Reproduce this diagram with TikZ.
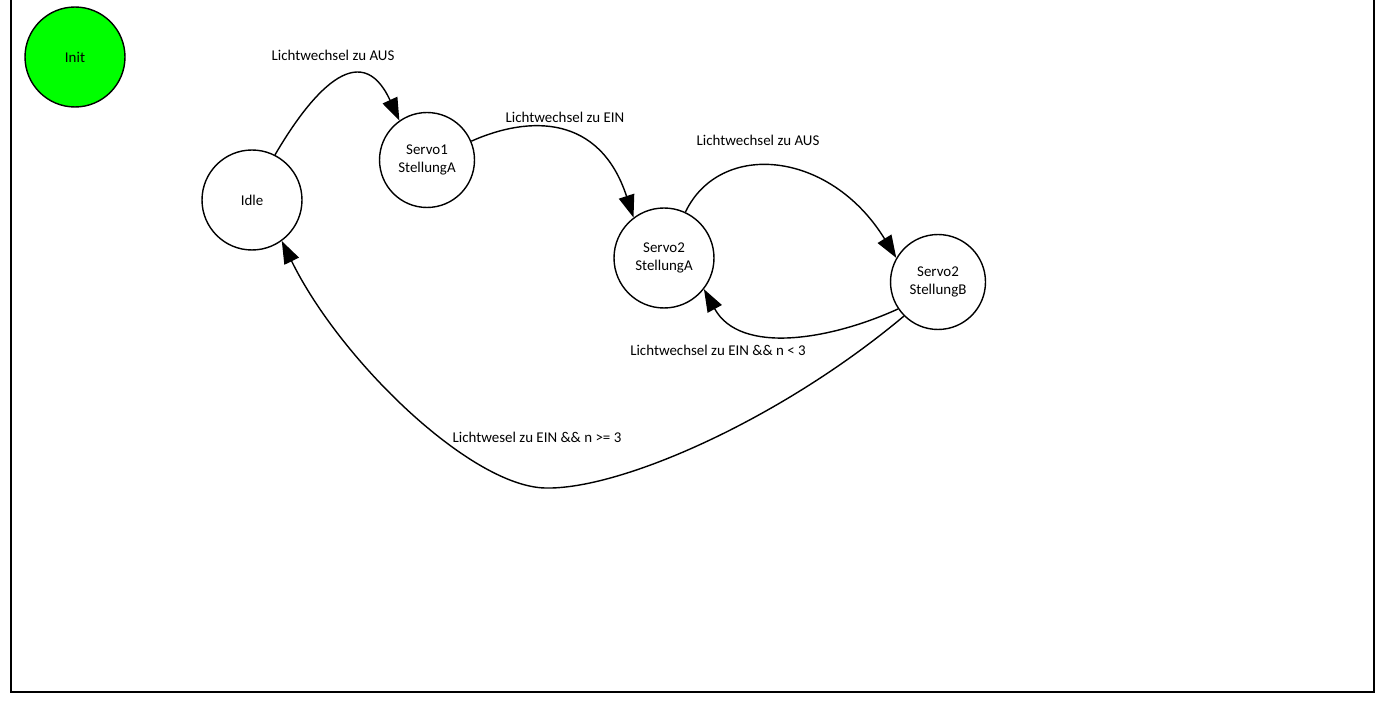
\documentclass[tikz,border=0pt]{standalone}
\usepackage{fontspec}
\setmainfont{Carlito}
\usetikzlibrary{arrows.meta}

\tikzset{
  state/.style={draw, thick, circle, minimum size=1.9cm, inner sep=0pt, align=center, font=\fontsize{8.5}{10}\selectfont},
  trans/.style={thick, -{Triangle[length=4.5mm, width=3.2mm]}},
  lbl/.style={font=\fontsize{8.5}{10}\selectfont, inner sep=1pt}
}

\begin{document}
\begin{tikzpicture}[x=0.02cm, y=-0.02cm]
        \useasboundingbox (0,0) rectangle (1382,702);
        \draw [very thick] (11,0) -- (11,692) -- (1374,692) -- (1374,0);

        \node [state, fill=green, minimum size=2cm] (init) at (75,57) {Init};
        \node [state, minimum size=2cm] (idle) at (252,200) {Idle};
        \node [state] (servoOneA) at (427,160) {Servo1\\StellungA};
        \node [state, minimum size=2cm] (servoTwoA) at (664,258) {Servo2\\StellungA};
        \node [state] (servoTwoB) at (938,282) {Servo2\\StellungB};

        \draw [trans] (idle.63) .. controls (310,95) and (360,35) .. (servoOneA.125);
        \draw [trans] (servoOneA.23) .. controls (530,115) and (600,115) .. (servoTwoA.127);
        \draw [trans] (servoTwoA.65) .. controls (720,140) and (830,150) .. (servoTwoB.150);
        \draw [trans] (servoTwoB.214) .. controls (830,340) and (740,355) .. (servoTwoA.-38);
        \draw [trans] (servoTwoB.225) .. controls (780,420) and (620,490) .. (545,488)
              .. controls (470,486) and (340,360) .. (idle.-54);

        \node [lbl] (tAus) at (333,55) {Lichtwechsel zu AUS};
        \node [lbl] (tEin) at (565,117) {Lichtwechsel zu EIN};
        \node [lbl] (tAusB) at (758,140) {Lichtwechsel zu AUS};
        \node [lbl] (tBack) at (718,350) {Lichtwechsel zu EIN \&\& n < 3};
        \node [lbl] (tIdle) at (537,437) {Lichtwesel zu EIN \&\& n >= 3};
\end{tikzpicture}
\end{document}
